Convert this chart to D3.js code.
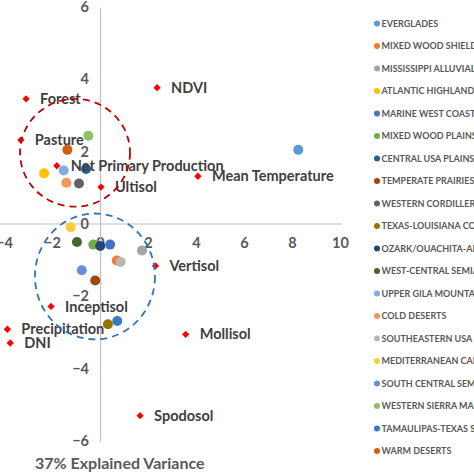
<!DOCTYPE html>
<html>
<head>
<meta charset="utf-8">
<script src="https://cdnjs.cloudflare.com/ajax/libs/d3/7.8.5/d3.min.js"></script>
<style>
    body { margin: 0; background: #fff; }
    svg { display: block; font-family: Lato, "Open Sans", sans-serif; }
</style>
</head>
<body>
<div id="chart"></div>
<script>
// Loadings (red diamonds with labels)
const loadingNames = ["Forest", "NDVI", "Pasture", "Net Primary Production", "Ultisol", "Mean Temperature",
    "Vertisol", "Inceptisol", "Precipitation", "DNI", "Mollisol", "Spodosol"];
const loadingX = [-3.08, 2.38, -3.30, -1.80, 0.04, 4.08, 2.31, -2.04, -3.86, -3.74, 3.57, 1.67];
const loadingY = [3.46, 3.77, 2.32, 1.61, 1.02, 1.32, -1.16, -2.28, -2.91, -3.29, -3.05, -5.30];

// Ecoregion scores (one point per series)
const regionNames = ["EVERGLADES", "MIXED WOOD SHIELD", "MISSISSIPPI ALLUVIAL AND SOUTHEAST USA COASTAL PLAINS",
    "ATLANTIC HIGHLANDS", "MARINE WEST COAST FOREST", "MIXED WOOD PLAINS", "CENTRAL USA PLAINS",
    "TEMPERATE PRAIRIES", "WESTERN CORDILLERA", "TEXAS-LOUISIANA COASTAL PLAIN",
    "OZARK/OUACHITA-APPALACHIAN FORESTS", "WEST-CENTRAL SEMIARID PRAIRIES", "UPPER GILA MOUNTAINS",
    "COLD DESERTS", "SOUTHEASTERN USA PLAINS", "MEDITERRANEAN CALIFORNIA", "SOUTH CENTRAL SEMIARID PRAIRIES",
    "WESTERN SIERRA MADRE PIEDMONT", "TAMAULIPAS-TEXAS SEMIARID PLAIN", "WARM DESERTS"];
const regionColors = ["#5B9BD5", "#ED7D31", "#A5A5A5", "#FFC000", "#4472C4", "#70AD47", "#255E91",
    "#9E480E", "#636363", "#997300", "#264478", "#43682B", "#7CAFDD", "#F1975A", "#B7B7B7",
    "#FFCD33", "#698ED0", "#8CC168", "#327DC2", "#D26012"];
const regionX = [8.26, 0.70, 1.75, -2.33, 0.42, -0.28, -0.58, -0.20, -0.875, 0.33,
    0.01, -0.96, -1.51, -1.40, 0.86, -1.22, -0.76, -0.49, 0.72, -1.36];
const regionY = [2.05, -1.01, -0.73, 1.40, -0.57, -0.57, 1.52, -1.56, 1.12, -2.77,
    -0.61, -0.50, 1.48, 1.14, -1.05, -0.09, -1.28, 2.44, -2.68, 2.05];

// Axes
const xTicks = [-4, -2, 0, 2, 4, 6, 8, 10];
const yTicks = [-6, -4, -2, 0, 2, 4, 6];
const xTitle = "37% Explained Variance";

// Dashed grouping ellipses (data units)
const groupCx = [-1.04, -0.21];
const groupCy = [1.97, -1.45];
const groupRx = [2.29, 2.5];
const groupRy = [1.49, 1.74];
const groupColors = ["#C00000", "#2E75B6"];

class BiplotChart {
    constructor(_config) {
        this.config = {
            parentElement: _config.parentElement,
            containerWidth: 474,
            containerHeight: 474,
            xRange: [4, 340],
            yRange: [441, 7]
        };
        this.initVis();
    }

    initVis() {
        let vis = this;

        vis.svg = d3.select(vis.config.parentElement)
            .append('svg')
            .attr('width', vis.config.containerWidth)
            .attr('height', vis.config.containerHeight);

        vis.xScale = d3.scaleLinear().domain([-4, 10]).range(vis.config.xRange);
        vis.yScale = d3.scaleLinear().domain([-6, 6]).range(vis.config.yRange);

        // axes cross at 0
        vis.xAxis = d3.axisBottom(vis.xScale).tickValues(xTicks).tickSize(0).tickPadding(14);
        vis.yAxis = d3.axisLeft(vis.yScale).tickValues(yTicks).tickSize(0).tickPadding(11);

        const xg = vis.svg.append('g')
            .attr('transform', `translate(0,${vis.yScale(0)})`)
            .call(vis.xAxis);
        const yg = vis.svg.append('g')
            .attr('transform', `translate(${vis.xScale(0)},0)`)
            .call(vis.yAxis);

        [xg, yg].forEach(g => {
            g.select('.domain').attr('stroke', '#bfbfbf').attr('stroke-width', 1.2);
            g.selectAll('text')
                .attr('fill', '#595959')
                .attr('font-size', '14.5px')
                .attr('font-weight', 'bold')
                .attr('font-family', 'Lato, sans-serif');
        });
        xg.select('.domain').attr('d', `M0,0H${vis.config.xRange[1] + 2}`);

        // axis title
        vis.svg.append('text')
            .attr('x', 35)
            .attr('y', 469)
            .attr('fill', '#595959')
            .attr('font-size', '16px')
            .attr('font-weight', 'bold')
            .text(xTitle);

        // ecoregion points
        vis.svg.selectAll('.region')
            .data(regionNames)
            .enter().append('circle')
            .attr('class', 'region')
            .attr('cx', (d, i) => vis.xScale(regionX[i]))
            .attr('cy', (d, i) => vis.yScale(regionY[i]))
            .attr('r', 5)
            .attr('fill', (d, i) => regionColors[i]);

        // loading diamonds
        const diamond = d3.symbol().type(d3.symbolDiamond2).size(34);
        vis.svg.selectAll('.loading')
            .data(loadingNames)
            .enter().append('path')
            .attr('class', 'loading')
            .attr('d', diamond)
            .attr('transform', (d, i) => `translate(${vis.xScale(loadingX[i])},${vis.yScale(loadingY[i])})`)
            .attr('fill', '#ff0000');

        vis.svg.selectAll('.loading-label')
            .data(loadingNames)
            .enter().append('text')
            .attr('class', 'loading-label')
            .attr('x', (d, i) => vis.xScale(loadingX[i]) + 14)
            .attr('y', (d, i) => vis.yScale(loadingY[i]))
            .attr('dy', '0.35em')
            .attr('fill', '#404040')
            .attr('font-size', '14.5px')
            .attr('font-weight', 'bold')
            .text(d => d);

        // dashed ellipses on top
        vis.svg.selectAll('.group')
            .data(groupColors)
            .enter().append('ellipse')
            .attr('class', 'group')
            .attr('cx', (d, i) => vis.xScale(groupCx[i]))
            .attr('cy', (d, i) => vis.yScale(groupCy[i]))
            .attr('rx', (d, i) => vis.xScale(groupCx[i] + groupRx[i]) - vis.xScale(groupCx[i]))
            .attr('ry', (d, i) => vis.yScale(groupCy[i] - groupRy[i]) - vis.yScale(groupCy[i]))
            .attr('fill', 'none')
            .attr('stroke', d => d)
            .attr('stroke-width', 1.8)
            .attr('stroke-dasharray', '7,5');

        // legend
        const legend = vis.svg.append('g').attr('transform', 'translate(377,23.5)');
        const rows = legend.selectAll('.legend-row')
            .data(regionNames)
            .enter().append('g')
            .attr('class', 'legend-row')
            .attr('transform', (d, i) => `translate(0,${i * 22.5})`);
        rows.append('circle')
            .attr('r', 3)
            .attr('fill', (d, i) => regionColors[i]);
        rows.append('text')
            .attr('x', 4.5)
            .attr('dy', '0.36em')
            .attr('fill', '#595959')
            .attr('font-size', '9px')
            .attr('font-weight', 'bold')
            .text(d => d);
    }
}

new BiplotChart({ parentElement: '#chart' });
</script>
</body>
</html>
